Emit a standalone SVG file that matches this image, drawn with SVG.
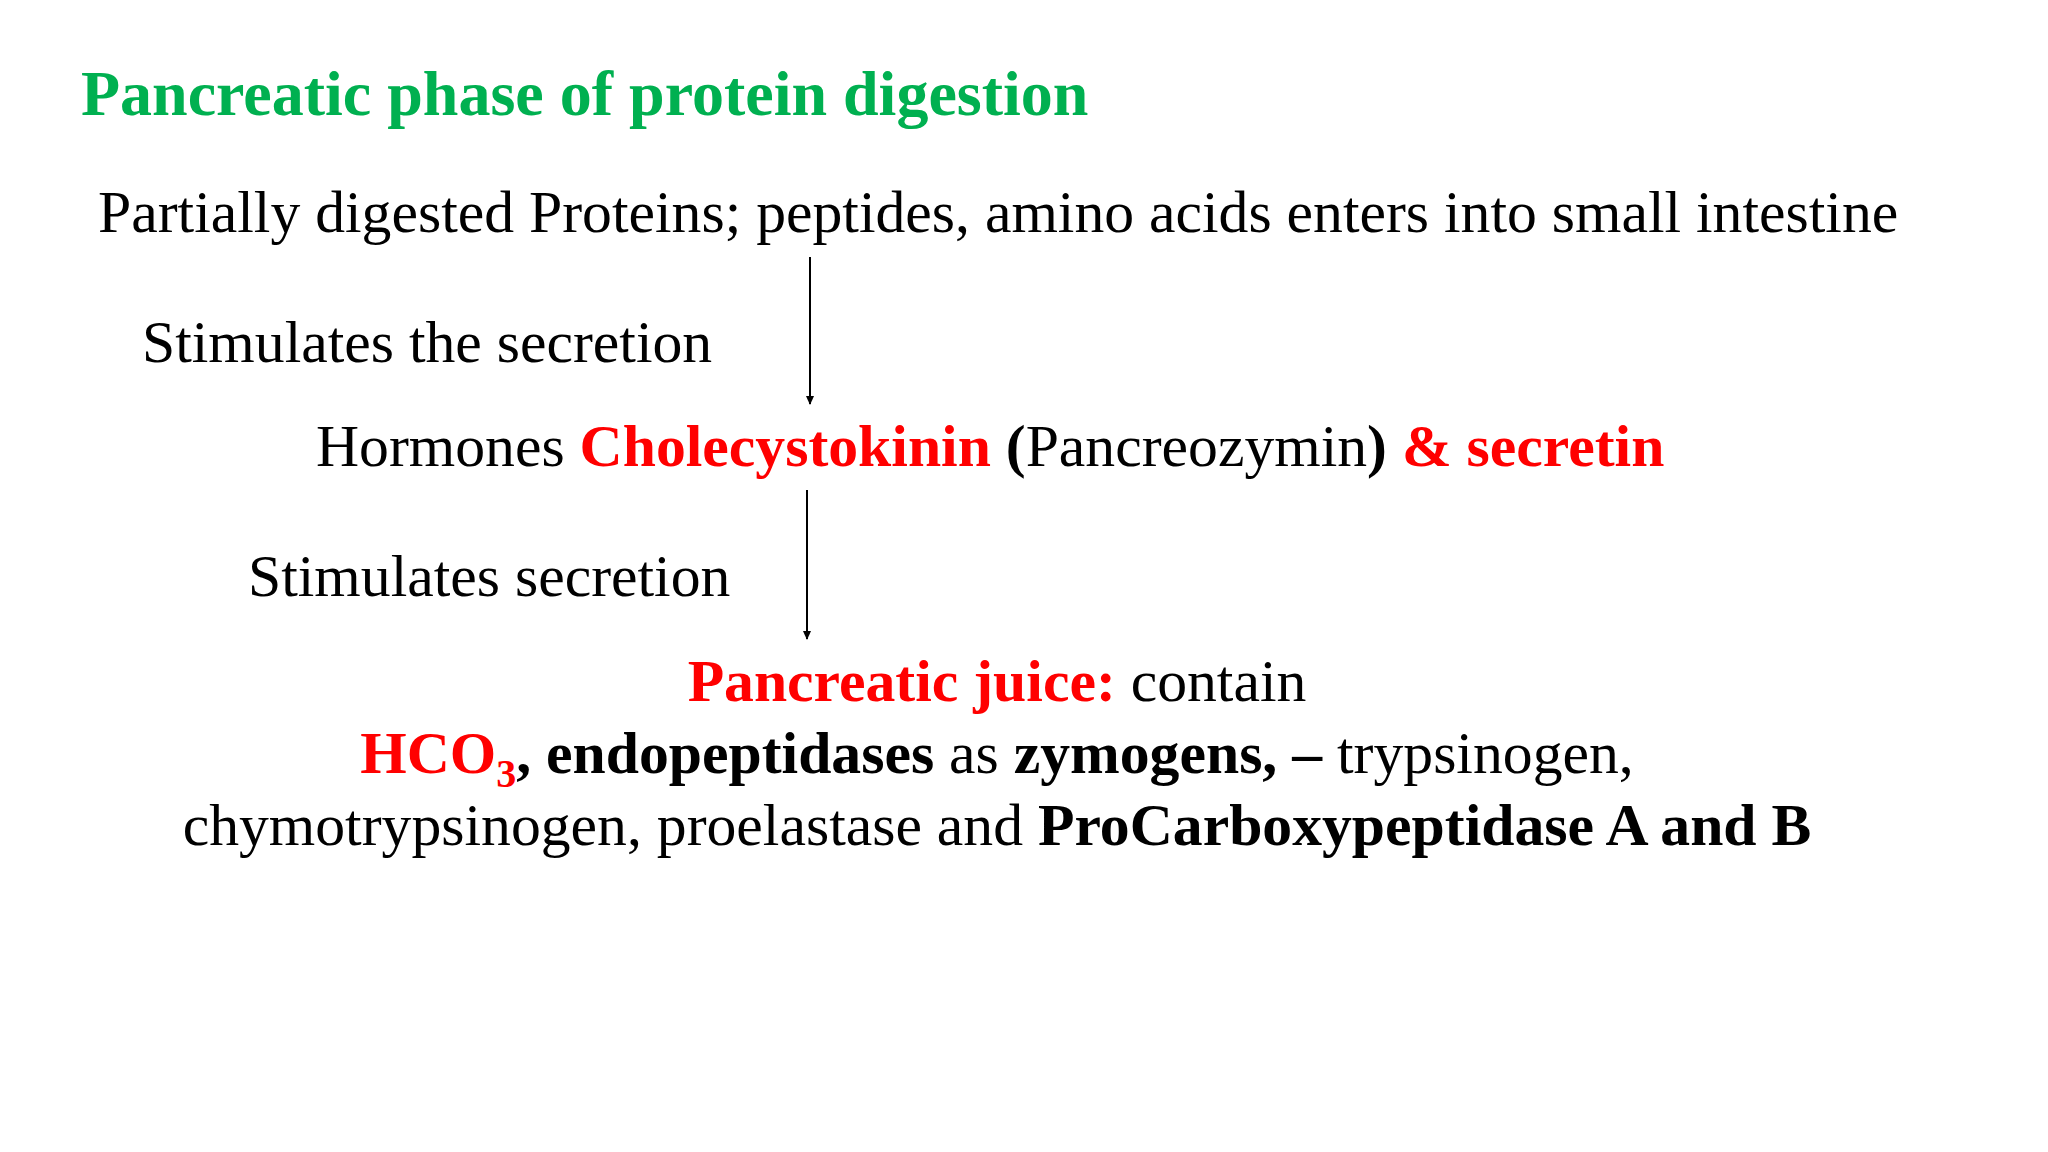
<svg xmlns="http://www.w3.org/2000/svg" width="2048" height="1152" viewBox="0 0 2048 1152">
<style>
text{font-family:"Liberation Serif","Times New Roman",serif;font-size:59.7px;fill:#000}
.title{font-size:64px;font-weight:bold;fill:#00B050}
.b{font-weight:bold}
.r{fill:#FF0000;font-weight:bold}
.conn{stroke:#000;stroke-width:2;fill:none}
</style>
<defs>
<marker id="ah" markerWidth="10" markerHeight="10" refX="8" refY="5" orient="auto" markerUnits="userSpaceOnUse">
<path d="M0,1 L9,5 L0,9 Z" fill="#000"/>
</marker>
</defs>
<rect width="2048" height="1152" fill="#fff"/>
<g id="title"><text class="title" x="81" y="115">Pancreatic phase of protein digestion</text></g>
<g id="node-input"><text x="98" y="232">Partially digested Proteins; peptides, amino acids enters into small intestine</text></g>
<g id="label-1"><text x="142" y="362">Stimulates the secretion</text></g>
<g id="node-hormones"><text x="316" y="466">Hormones <tspan class="r">Cholecystokinin</tspan> <tspan class="b">(</tspan>Pancreozymin<tspan class="b">)</tspan> <tspan class="r">&amp; secretin</tspan></text></g>
<g id="label-2"><text x="248" y="596">Stimulates secretion</text></g>
<g id="node-juice">
<text x="997" y="701" text-anchor="middle"><tspan class="r">Pancreatic juice:</tspan> contain</text>
<text x="997" y="773" text-anchor="middle"><tspan class="r">HCO<tspan font-size="40" dy="14">3</tspan></tspan><tspan class="b" dy="-14">, endopeptidases</tspan> as <tspan class="b">zymogens, –</tspan> trypsinogen,</text>
<text x="997" y="845" text-anchor="middle">chymotrypsinogen, proelastase and <tspan class="b">ProCarboxypeptidase A and B</tspan></text>
</g>
<g id="connectors">
<line class="conn" x1="810" y1="257" x2="810" y2="404" marker-end="url(#ah)"/>
<line class="conn" x1="807" y1="490" x2="807" y2="639" marker-end="url(#ah)"/>
</g>
</svg>
